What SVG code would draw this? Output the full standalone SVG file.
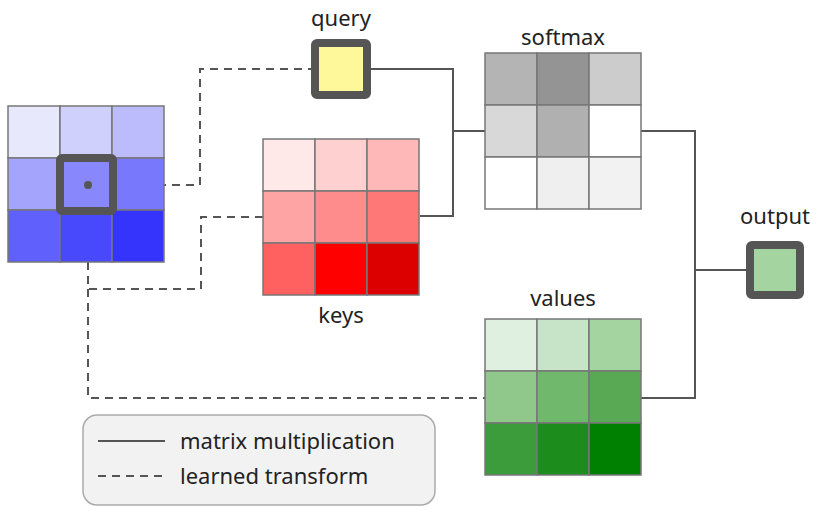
<svg xmlns="http://www.w3.org/2000/svg" width="828" height="516" viewBox="0 0 828 516">
<style>
.c{stroke:#777;stroke-width:1.5}
.s{fill:none;stroke:#555;stroke-width:2}
.d{fill:none;stroke:#555;stroke-width:2;stroke-dasharray:8,6}
.t{font-family:"Noto Sans","Open Sans",sans-serif;font-size:22px;fill:#222}
.hb{fill:none;stroke:#555;stroke-width:8}
</style>
<rect width="828" height="516" fill="#fff"/>
<g id="connectors">
<path class="d" d="M88,185 H200 V69 H311"/>
<path class="d" d="M88,262 V289 H201 V217 H263"/>
<path class="d" d="M88,289 V398 H485"/>
<path class="s" d="M371,69 H453 V216 H420 M453,131 H485"/>
<path class="s" d="M641,131 H695 V398 H641 M695,270 H746"/>
</g>
<g id="input">
<rect class="c" x="8" y="106" width="52" height="52" fill="#e8e8fc"/><rect class="c" x="60" y="106" width="52" height="52" fill="#d0d0fc"/><rect class="c" x="112" y="106" width="52" height="52" fill="#bcbcfc"/>
<rect class="c" x="8" y="158" width="52" height="52" fill="#a4a4fc"/><rect class="c" x="60" y="158" width="52" height="52" fill="#8888fc"/><rect class="c" x="112" y="158" width="52" height="52" fill="#7878fc"/>
<rect class="c" x="8" y="210" width="52" height="52" fill="#6060fc"/><rect class="c" x="60" y="210" width="52" height="52" fill="#4848fc"/><rect class="c" x="112" y="210" width="52" height="52" fill="#3434fc"/>
<rect class="hb" x="60" y="158" width="53" height="53" rx="2"/>
<circle cx="88" cy="185" r="4" fill="#555"/>
</g>
<g id="query">
<text class="t" x="341" y="26" text-anchor="middle">query</text>
<rect x="315" y="43" width="52" height="52" fill="#fff89a" stroke="#555" stroke-width="8" rx="2"/>
</g>
<g id="keys">
<rect class="c" x="263" y="139" width="52" height="52" fill="#ffe8e8"/><rect class="c" x="315" y="139" width="52" height="52" fill="#ffd0d0"/><rect class="c" x="367" y="139" width="52" height="52" fill="#ffb8b8"/>
<rect class="c" x="263" y="191" width="52" height="52" fill="#ffa4a4"/><rect class="c" x="315" y="191" width="52" height="52" fill="#ff8c8c"/><rect class="c" x="367" y="191" width="52" height="52" fill="#ff7878"/>
<rect class="c" x="263" y="243" width="52" height="52" fill="#ff6060"/><rect class="c" x="315" y="243" width="52" height="52" fill="#ff0000"/><rect class="c" x="367" y="243" width="52" height="52" fill="#dd0000"/>
<text class="t" x="341" y="323" text-anchor="middle">keys</text>
</g>
<g id="softmax">
<text class="t" x="563" y="45" text-anchor="middle">softmax</text>
<rect class="c" x="485" y="53" width="52" height="52" fill="#b4b4b4"/><rect class="c" x="537" y="53" width="52" height="52" fill="#949494"/><rect class="c" x="589" y="53" width="52" height="52" fill="#cccccc"/>
<rect class="c" x="485" y="105" width="52" height="52" fill="#d8d8d8"/><rect class="c" x="537" y="105" width="52" height="52" fill="#b0b0b0"/><rect class="c" x="589" y="105" width="52" height="52" fill="#ffffff"/>
<rect class="c" x="485" y="157" width="52" height="52" fill="#ffffff"/><rect class="c" x="537" y="157" width="52" height="52" fill="#efefef"/><rect class="c" x="589" y="157" width="52" height="52" fill="#f2f2f2"/>
</g>
<g id="values">
<text class="t" x="563" y="306" text-anchor="middle">values</text>
<rect class="c" x="485" y="319" width="52" height="52" fill="#e0f0e0"/><rect class="c" x="537" y="319" width="52" height="52" fill="#c8e4c8"/><rect class="c" x="589" y="319" width="52" height="52" fill="#a4d4a0"/>
<rect class="c" x="485" y="371" width="52" height="52" fill="#90c88c"/><rect class="c" x="537" y="371" width="52" height="52" fill="#70b86c"/><rect class="c" x="589" y="371" width="52" height="52" fill="#58a854"/>
<rect class="c" x="485" y="423" width="52" height="52" fill="#3c9c3c"/><rect class="c" x="537" y="423" width="52" height="52" fill="#1c8c1c"/><rect class="c" x="589" y="423" width="52" height="52" fill="#008000"/>
</g>
<g id="output">
<text class="t" x="775" y="224" text-anchor="middle">output</text>
<rect x="750" y="245" width="50" height="50" fill="#a4d4a0" stroke="#555" stroke-width="8" rx="2"/>
</g>
<g id="legend">
<rect x="83" y="415" width="352" height="90" rx="14" fill="#f2f2f2" stroke="#aaa" stroke-width="1.5"/>
<line class="s" x1="98" y1="441" x2="165" y2="441"/>
<line class="d" x1="98" y1="476" x2="165" y2="476"/>
<text class="t" x="180" y="449">matrix multiplication</text>
<text class="t" x="180" y="484">learned transform</text>
</g>
</svg>
